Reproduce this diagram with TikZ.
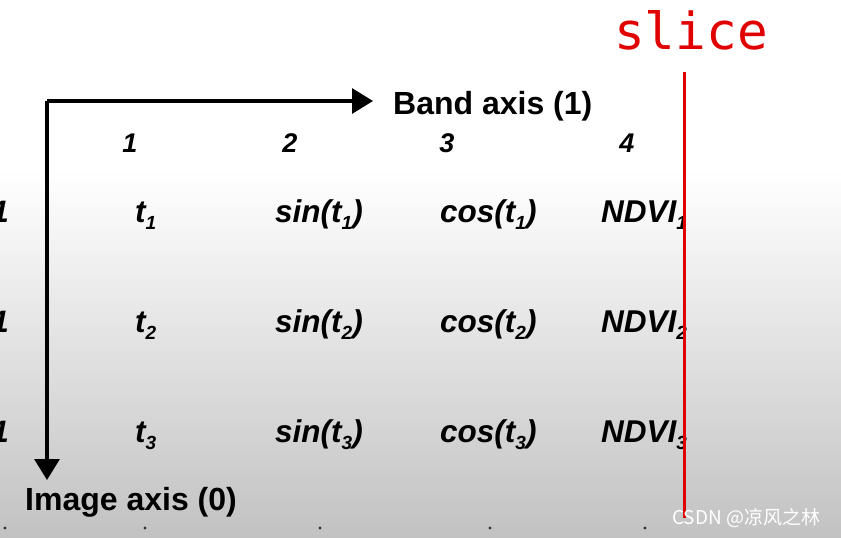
\documentclass[tikz,border=0pt]{standalone}
\usepackage{fontspec}
\setmainfont{Liberation Sans}
\newfontfamily\slicefont{DejaVu Sans Mono}
\newfontfamily\cjkfont{Noto Sans CJK SC}
\usetikzlibrary{arrows.meta}
\newcommand\cellsub[1]{\raisebox{-7pt}{\fontsize{19}{19}\selectfont #1}}
\definecolor{bggray}{RGB}{194,194,194}
\definecolor{slicered}{RGB}{225,0,0}
\begin{document}
\begin{tikzpicture}[x=1pt,y=-1pt,
  axisline/.style={line width=3.2pt,-{Triangle[length=21pt,width=25pt]}},
  axislabel/.style={anchor=base west,inner sep=0pt,font=\fontsize{32}{37}\selectfont\bfseries},
  colnum/.style={anchor=base,inner sep=0pt,font=\fontsize{27}{32}\selectfont\bfseries\itshape},
  cell/.style={anchor=base west,inner sep=0pt,font=\fontsize{31.5}{36}\selectfont\bfseries\itshape},
  rowlab/.style={anchor=base east,inner sep=0pt,font=\fontsize{31}{36}\selectfont\bfseries\itshape},
  dotmark/.style={fill=black!80,draw=none}]
\useasboundingbox (0,0) rectangle (841,538);
\clip (0,0) rectangle (841,538);
% background
\fill[white] (0,0) rectangle (841,171);
\shade[top color=white,bottom color=bggray] (0,170) rectangle (841,538);
% axes
\coordinate (corner) at (47,101);
\coordinate (bandtip) at (373,101);
\coordinate (imgtip) at (47,480);
\draw[axisline] (corner) -- (bandtip);
\draw[axisline] (corner) -- (imgtip);
\node[axislabel] (band) at (393,114) {Band axis (1)};
\node[axislabel] (image) at (25,510) {Image axis (0)};
% column numbers
\node[colnum] (c1) at (130,152) {1};
\node[colnum] (c2) at (290,152) {2};
\node[colnum] (c3) at (447,152) {3};
\node[colnum] (c4) at (627,152) {4};
% row labels
\node[rowlab] (r1) at (9,222) {1};
\node[rowlab] (r2) at (9,332) {1};
\node[rowlab] (r3) at (9,442) {1};
% cells
\node[cell] (t1) at (135,222) {t\cellsub{1}};
\node[cell] (s1) at (275,222) {sin(t\cellsub{1})};
\node[cell] (k1) at (440,222) {cos(t\cellsub{1})};
\node[cell] (n1) at (601,222) {NDVI\cellsub{1}};
\node[cell] (t2) at (135,332) {t\cellsub{2}};
\node[cell] (s2) at (275,332) {sin(t\cellsub{2})};
\node[cell] (k2) at (440,332) {cos(t\cellsub{2})};
\node[cell] (n2) at (601,332) {NDVI\cellsub{2}};
\node[cell] (t3) at (135,442) {t\cellsub{3}};
\node[cell] (s3) at (275,442) {sin(t\cellsub{3})};
\node[cell] (k3) at (440,442) {cos(t\cellsub{3})};
\node[cell] (n3) at (601,442) {NDVI\cellsub{3}};
% bottom dots
\foreach \x in {5,145,320,490,645} \fill[dotmark] (\x,528) circle (1.6);
% slice
\coordinate (slicetop) at (684,72);
\coordinate (slicebot) at (684,518);
\draw[slicered,line width=3pt] (slicetop) -- (slicebot);
\node[anchor=base west,inner sep=0pt,text=slicered,font=\fontsize{51}{58}\slicefont] (slice) at (614,49) {slice};
% watermark
\node[anchor=west,inner sep=0pt,text=white,font=\fontsize{19}{22}\cjkfont] (wm) at (672,518) {CSDN @凉风之林};
\end{tikzpicture}
\end{document}
